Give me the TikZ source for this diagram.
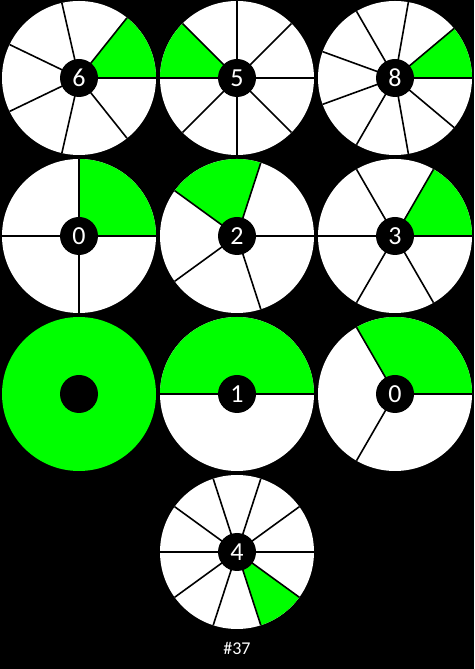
\documentclass[tikz,border=0pt]{standalone}
\usepackage{fontspec}
\setmainfont{Carlito}
\definecolor{slicegreen}{RGB}{0,255,0}

\begin{document}
\begin{tikzpicture}[x=1pt,y=1pt,
    hub/.style={circle,fill=black,minimum size=38pt,inner sep=0pt,text=white,font=\fontsize{26}{26}\selectfont},
    spoke/.style={draw=black,line width=1.6pt},
    tagtext/.style={text=white,font=\fontsize{18}{18}\selectfont}
  ]
  \fill[black] (0,0) rectangle (474,669);
  % dials: name/x/y/slices/green slice/number
  \foreach \nm/\cx/\cy/\n/\g/\lab in {dsix/79/591/7/0/6, dfive/237/591/8/3/5, deight/395/591/9/0/8,
      dzeroa/79/433/4/0/0, dtwo/237/433/5/1/2, dthree/395/433/6/0/3,
      done/237/275/2/0/1, dzerob/395/275/3/0/0, dfour/237/117/10/8/4}{
    \fill[white] (\cx,\cy) circle[radius=77];
    \fill[slicegreen] (\cx,\cy) -- ++({\g*360/\n}:77) arc[start angle={\g*360/\n},delta angle={360/\n},radius=77] -- cycle;
    \foreach \k in {1,...,\n}
      \draw[spoke] (\cx,\cy) -- ++({\k*360/\n}:77);
    \node[hub] (\nm) at (\cx,\cy) {\lab};
  }
  % full ring
  \fill[slicegreen] (79,275) circle[radius=77];
  \node[hub] (dring) at (79,275) {};
  \node[tagtext] (tag) at (237,21) {\#37};
\end{tikzpicture}
\end{document}
